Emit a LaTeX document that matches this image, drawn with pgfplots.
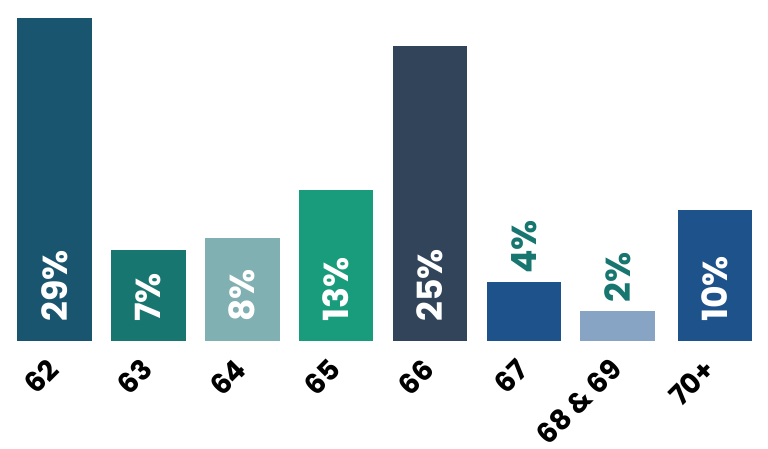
\documentclass[border=0pt]{standalone}
\usepackage{fontspec}
\setmainfont{Poppins}
\usepackage{pgfplots}
\pgfplotsset{compat=1.18}
\definecolor{cA}{HTML}{1A5570}
\definecolor{cB}{HTML}{17766F}
\definecolor{cC}{HTML}{80B0B1}
\definecolor{cD}{HTML}{189C7C}
\definecolor{cE}{HTML}{324459}
\definecolor{cF}{HTML}{1D528A}
\definecolor{cG}{HTML}{88A4C4}

\begin{document}
\begin{tikzpicture}
\useasboundingbox (0,-81.225pt) rectangle (576pt,255.525pt);
\begin{axis}[
    at={(0,0)}, anchor=south west,
    scale only axis,
    width=576pt, height=255.525pt,
    xmin=-0.583, xmax=7.604,
    ymin=0, ymax=30.64,
    axis line style={draw=none},
    major tick length=0pt,
    ytick=\empty,
    xtick={0,1,2,3,4,5,6,7},
    xticklabels={62,63,64,65,66,67,{68 \& 69},70+},
    xticklabel style={rotate=45, anchor=east, inner sep=0pt,
        font=\bfseries\fontsize{21}{21}\selectfont,
        xshift=-13.2pt, yshift=-11.9pt},
    clip=false,
]
% bars (heights)
\addplot[ybar, bar width=55.8pt, fill=cA, draw=none] coordinates {(0,29.0)};
\addplot[ybar, bar width=55.8pt, fill=cB, draw=none] coordinates {(1,8.16)};
\addplot[ybar, bar width=55.8pt, fill=cC, draw=none] coordinates {(2,9.26)};
\addplot[ybar, bar width=55.8pt, fill=cD, draw=none] coordinates {(3,13.55)};
\addplot[ybar, bar width=55.8pt, fill=cE, draw=none] coordinates {(4,26.53)};
\addplot[ybar, bar width=55.8pt, fill=cF, draw=none] coordinates {(5,5.28)};
\addplot[ybar, bar width=55.8pt, fill=cG, draw=none] coordinates {(6,2.67)};
\addplot[ybar, bar width=55.8pt, fill=cF, draw=none] coordinates {(7.04,11.73)};

% labels inside bars
\addplot[draw=none, nodes near coords, point meta=explicit symbolic,
    every node near coord/.style={rotate=90, anchor=west, inner sep=0pt,
        text=white, font=\bfseries\fontsize{26}{26}\selectfont}]
    coordinates {(0,1.68)[29\%] (1,1.68)[7\%] (2,1.68)[8\%] (3,1.68)[13\%]
                 (4,1.68)[25\%] (7.04,1.68)[10\%]};
% labels above small bars
\addplot[draw=none, nodes near coords, point meta=explicit symbolic,
    every node near coord/.style={rotate=90, anchor=west, inner sep=0pt,
        text=cB, font=\bfseries\fontsize{26}{26}\selectfont}]
    coordinates {(5,6.0)[4\%] (6,3.39)[2\%]};
\end{axis}
\end{tikzpicture}
\end{document}
